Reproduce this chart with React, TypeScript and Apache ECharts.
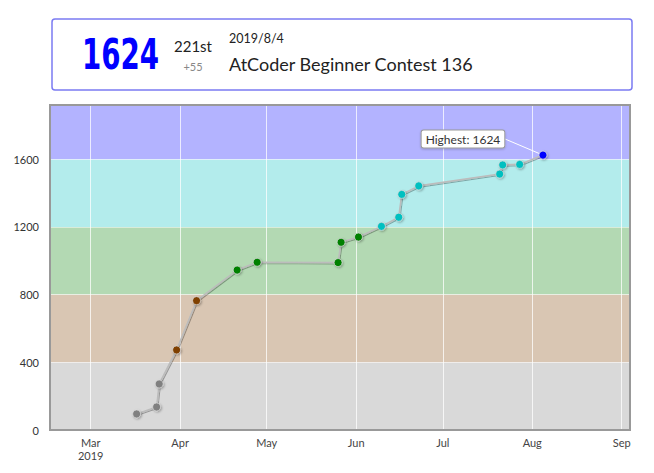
import React, { useEffect, useRef } from 'react';
import * as echarts from 'echarts';

// ---- Data ----
const contestDates = [
  '2019-03-16T22:20', '2019-03-23T20:30', '2019-03-24T18:00', '2019-03-30T18:45',
  '2019-04-06T16:50', '2019-04-20T18:15', '2019-04-27T16:30', '2019-05-25T17:30',
  '2019-05-26T18:30', '2019-06-01T19:10', '2019-06-09T18:15', '2019-06-15T18:00',
  '2019-06-16T19:00', '2019-06-22T16:20', '2019-07-20T17:20', '2019-07-21T18:15',
  '2019-07-27T15:40', '2019-08-04T17:20',
];
const ratings = [95, 136, 272, 473, 764, 945, 991, 989, 1109, 1140, 1203, 1257, 1392, 1442, 1512, 1566, 1569, 1624];

const bandEdges = [0, 400, 800, 1200, 1600, 1920];
const bandColors = ['#d9d9d9', '#d9c6b3', '#b3d9b3', '#b3ecec', '#b3b3ff'];
const rankColors = ['#808080', '#804000', '#008000', '#00c0c0', '#0000ff'];
const monthNames = ['Jan', 'Feb', 'Mar', 'Apr', 'May', 'Jun', 'Jul', 'Aug', 'Sep', 'Oct', 'Nov', 'Dec'];
const xRange = ['2019-02-14T22:00', '2019-09-03T21:00'];
const yRange = [0, 1920];
const yInterval = 400;

const latestRating = '1624';
const latestRank = '221st';
const ratingDiff = '+55';
const contestDate = '2019/8/4';
const contestName = 'AtCoder Beginner Contest 136';

const colorFor = (r: number) => {
  for (let i = bandEdges.length - 2; i >= 0; i--) {
    if (r >= bandEdges[i]) return rankColors[i];
  }
  return rankColors[0];
};

export default function App() {
  const ref = useRef<HTMLDivElement>(null);
  useEffect(() => {
    if (!ref.current) return;
    const chart = echarts.init(ref.current, undefined, { renderer: 'svg' });
    const maxVal = Math.max(...ratings);
    const maxIdx = ratings.indexOf(maxVal);
    const firstMonth = new Date(contestDates[0]).getMonth();
    const data = contestDates.map((d, i) => {
      const item: any = {
        value: [new Date(d).getTime(), ratings[i]],
        itemStyle: { color: colorFor(ratings[i]) },
      };
      if (i === maxIdx) {
        item.label = {
          show: true,
          position: 'top',
          formatter: 'Highest: ' + maxVal,
          backgroundColor: '#fff',
          borderColor: '#999',
          borderWidth: 1,
          borderRadius: 2,
          padding: [3, 4, 2, 4],
          fontFamily: 'Lato',
          fontSize: 12,
          color: '#333',
          shadowColor: 'rgba(0,0,0,0.2)',
          shadowBlur: 2,
          shadowOffsetY: 1,
        };
        item.labelLine = { show: true, lineStyle: { color: '#fff', width: 1 } };
      }
      return item;
    });

    const bands = bandColors.map((c, i) => [
      { yAxis: bandEdges[i], itemStyle: { color: c } },
      { yAxis: bandEdges[i + 1] },
    ]);

    chart.setOption({
      animation: false,
      grid: {
        left: 50, right: 24, top: 105, bottom: 43,
        show: true, borderColor: '#999', borderWidth: 2, backgroundColor: 'transparent', z: 10,
      },
      xAxis: {
        type: 'time',
        min: new Date(xRange[0]).getTime(),
        max: new Date(xRange[1]).getTime(),
        splitNumber: 7,
        z: 3,
        axisLine: { show: false },
        axisTick: { show: false },
        splitLine: { show: true, lineStyle: { color: 'rgba(255,255,255,0.75)', width: 1 } },
        axisLabel: {
          showMinLabel: false,
          showMaxLabel: false,
          color: '#444',
          fontFamily: 'Lato',
          fontSize: 11,
          lineHeight: 13,
          margin: 6,
          formatter: (v: number) => {
            const d = new Date(v);
            const m = monthNames[d.getMonth()];
            return d.getMonth() === firstMonth ? m + '\n' + d.getFullYear() : m;
          },
        },
      },
      yAxis: {
        type: 'value',
        min: yRange[0],
        max: yRange[1],
        interval: yInterval,
        z: 3,
        axisLine: { show: false },
        axisTick: { show: false },
        splitLine: { show: true, lineStyle: { color: 'rgba(255,255,255,0.5)', width: 1 } },
        axisLabel: {
          color: '#333', fontFamily: 'Lato', fontSize: 11, margin: 11, showMaxLabel: false,
          formatter: (v: number) => String(v),
        },
      },
      series: [
        {
          type: 'line',
          data: [],
          z: 1,
          silent: true,
          markArea: { silent: true, z: 1, data: bands },
        },
        {
          type: 'line',
          z: 5,
          data,
          silent: true,
          symbol: 'circle',
          symbolSize: 8,
          lineStyle: {
            color: '#bcbcbc', width: 1.6,
            shadowColor: 'rgba(0,0,0,0.3)', shadowBlur: 1.5, shadowOffsetX: 1, shadowOffsetY: 1,
          },
          itemStyle: {
            borderColor: 'rgba(220,220,220,0.7)', borderWidth: 1,
            shadowColor: 'rgba(0,0,0,0.3)', shadowBlur: 2, shadowOffsetX: 1, shadowOffsetY: 1,
          },
          labelLayout: (p: any) => (p.dataIndex === maxIdx ? { dx: -80, dy: 2 } : {}),
          emphasis: { disabled: true },
        },
      ],
      graphic: [
        {
          type: 'rect',
          shape: { x: 52, y: 19, width: 580, height: 71, r: 3 },
          style: { fill: '#fff', stroke: '#7b7bf2', lineWidth: 1.5 },
        },
        {
          type: 'text',
          x: 120.5, y: 54,
          scaleX: 0.66,
          style: {
            text: latestRating, fill: '#0000ff', align: 'center', verticalAlign: 'middle',
            font: 'bold 42px "DejaVu Sans"',
          },
        },
        {
          type: 'text',
          x: 193, y: 46,
          style: { text: latestRank, fill: '#222', align: 'center', verticalAlign: 'middle', font: '15px Lato' },
        },
        {
          type: 'text',
          x: 193, y: 66,
          style: { text: ratingDiff, fill: '#888', align: 'center', verticalAlign: 'middle', font: '11px Lato' },
        },
        {
          type: 'text',
          x: 229, y: 38,
          style: { text: contestDate, fill: '#222', align: 'left', verticalAlign: 'middle', font: '12.5px Lato' },
        },
        {
          type: 'text',
          x: 229, y: 64,
          style: { text: contestName, fill: '#222', align: 'left', verticalAlign: 'middle', font: '18px Lato' },
        },
      ],
    });
    return () => chart.dispose();
  }, []);
  return (
    <div
      ref={ref}
      style={{ position: 'fixed', left: 0, top: 0, width: 654, height: 473, background: '#fff' }}
    />
  );
}
